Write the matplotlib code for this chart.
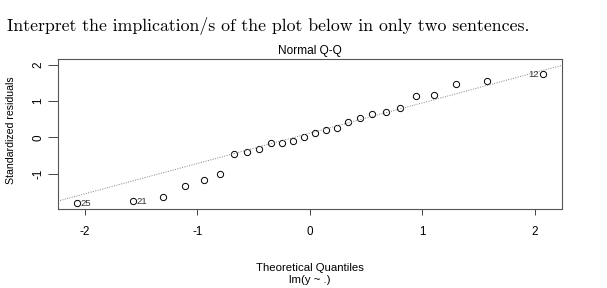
import matplotlib
matplotlib.use("Agg")
import matplotlib.pyplot as plt
import numpy as np

# cuantiles teoricos (n = 26) y residuos estandarizados ordenados
cuantiles = [-2.070, -1.574, -1.304, -1.105, -0.942, -0.801, -0.674, -0.558,
             -0.448, -0.344, -0.243, -0.145, -0.048, 0.048, 0.145, 0.243,
             0.344, 0.448, 0.558, 0.674, 0.801, 0.942, 1.105, 1.304, 1.574, 2.070]
residuos = [-1.81, -1.76, -1.64, -1.34, -1.17, -1.00, -0.46, -0.41, -0.32,
            -0.165, -0.16, -0.11, 0.01, 0.13, 0.19, 0.25, 0.41, 0.54, 0.63,
            0.69, 0.80, 1.14, 1.16, 1.46, 1.55, 1.73]
etiquetas = {0: "25", 1: "21", 25: "12"}
ticks_x = [-2, -1, 0, 1, 2]
ticks_y = [-1, 0, 1, 2]

pregunta = "Interpret the implication/s of the plot below in only two sentences."

fig = plt.figure(figsize=(6.07, 2.88), dpi=100)
fig.text(0.012, 1 - 31 / 288, pregunta, family="cmr10", fontsize=12.75,
         ha="left", va="baseline")

ax = fig.add_axes([0.096, 0.273, 0.83, 0.521])
ax.plot(cuantiles, residuos, "o", mfc="none", mec="black", ms=4.5, mew=0.7)

# linea qq como en R (por los cuartiles)
q1, q3 = np.quantile(residuos, [0.25, 0.75])
z = 0.6745
pendiente = (q3 - q1) / (2 * z)
intercepto = q1 + pendiente * z
xs = np.array([-3, 3])
ax.plot(xs, intercepto + pendiente * xs, color="gray", ls=(0, (1, 1.5)), lw=0.7)

for i, txt in etiquetas.items():
    if cuantiles[i] < 0:
        ax.annotate(txt, (cuantiles[i], residuos[i]), xytext=(2.5, 0),
                    textcoords="offset points", ha="left", va="center",
                    fontsize=6.8, family="Liberation Sans", color="#333333")
    else:
        ax.annotate(txt, (cuantiles[i], residuos[i]), xytext=(-2.5, 0),
                    textcoords="offset points", ha="right", va="center",
                    fontsize=6.8, family="Liberation Sans", color="#333333")

ax.set_xlim(-2.236, 2.244)
ax.set_ylim(-1.978, 2.143)
ax.set_xticks(ticks_x)
ax.set_yticks(ticks_y)
ax.set_xticklabels([str(t) for t in ticks_x], family="Liberation Sans", fontsize=8.4)
ax.set_yticklabels([str(t) for t in ticks_y], family="Liberation Sans", fontsize=8.4,
                   rotation=90, va="center")
ax.tick_params(axis="x", length=4.3, width=0.7, pad=8, color="#444444")
ax.tick_params(axis="y", length=7, width=0.7, pad=3, color="#444444")
for s in ax.spines.values():
    s.set_color("#555555")
    s.set_linewidth(0.8)

ax.set_title("Normal Q-Q", family="Liberation Sans", fontsize=8.6, pad=4)
fig.text(310 / 607, 1 - 268 / 288, "Theoretical Quantiles", family="Liberation Sans",
         fontsize=8.2, ha="center", va="center")
fig.text(310 / 607, 1 - 280 / 288, "lm(y ~ .)", family="Liberation Sans",
         fontsize=8.2, ha="center", va="center")
fig.text(10.7 / 607, 1 - 130 / 288, "Standardized residuals", family="Liberation Sans",
         fontsize=7.6, ha="center", va="center", rotation=90)

fig.savefig("out.png", dpi=100)
